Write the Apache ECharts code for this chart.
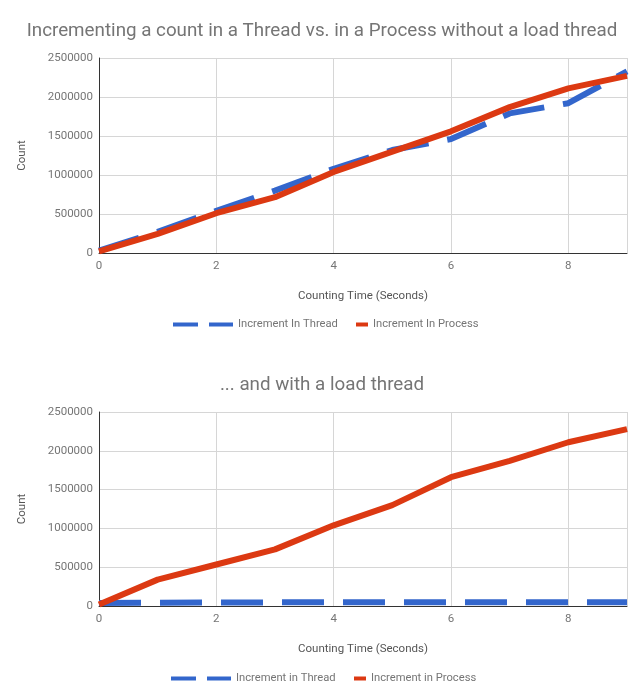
<!DOCTYPE html>
<html>
<head>
<meta charset="utf-8">
<script src="https://cdn.jsdelivr.net/npm/echarts@6/dist/echarts.min.js"></script>
<style>
html,body{margin:0;padding:0;background:#fff;}
#c{width:644px;height:693px;}
</style>
</head>
<body>
<div id="c"></div>
<script>
// Data
var seconds = [0, 1, 2, 3, 4, 5, 6, 7, 8, 9];
var threadNoLoad = [30000, 270000, 540000, 800000, 1080000, 1320000, 1460000, 1790000, 1920000, 2330000];
var processNoLoad = [20000, 245000, 510000, 715000, 1040000, 1300000, 1560000, 1870000, 2110000, 2270000];
var threadLoad = [40000, 42000, 45000, 47000, 48000, 47000, 48000, 48000, 48000, 48000];
var processLoad = [20000, 340000, 535000, 730000, 1040000, 1300000, 1660000, 1870000, 2110000, 2280000];
var yTicks = [0, 500000, 1000000, 1500000, 2000000, 2500000];
var titles = ["Incrementing a count in a Thread vs. in a Process without a load thread", "... and with a load thread"];
var namesTop = ["Increment In Thread", "Increment In Process"];
var namesBottom = ["Increment in Thread", "Increment in Process"];

var BLUE = '#3366cc', RED = '#dc3912';
var FONT = 'Roboto';

function pairs(ys) { return seconds.map(function (x, i) { return [x, ys[i]]; }); }

function xAxis(gi) {
  return {
    type: 'value', gridIndex: gi, min: 0, max: 9, interval: 2,
    name: 'Counting Time (Seconds)', nameLocation: 'middle', nameGap: 37,
    nameTextStyle: { color: '#555', fontFamily: FONT, fontSize: 11.5 },
    axisLine: { show: true, lineStyle: { color: '#333', width: 1 } },
    axisTick: { show: false },
    axisLabel: { color: '#757575', fontFamily: FONT, fontSize: 11.5, margin: 7, showMaxLabel: false },
    splitLine: { show: true, lineStyle: { color: '#d6d6d6', width: 1 } }
  };
}
function yAxis(gi) {
  return {
    type: 'value', gridIndex: gi, min: yTicks[0], max: yTicks[yTicks.length - 1], interval: 500000,
    name: 'Count', nameLocation: 'middle', nameGap: 71, nameRotate: 90,
    nameTextStyle: { color: '#555', fontFamily: FONT, fontSize: 11.5 },
    axisLine: { show: true, onZero: false, lineStyle: { color: '#333', width: 1 } },
    axisTick: { show: false },
    axisLabel: { color: '#757575', fontFamily: FONT, fontSize: 11.5, margin: 6, formatter: function (v) { return String(v); } },
    splitLine: { show: true, lineStyle: { color: '#d6d6d6', width: 1 } }
  };
}
function lineSeries(name, gi, ys, color, dashed) {
  return {
    type: 'line', name: name, xAxisIndex: gi, yAxisIndex: gi,
    data: pairs(ys), showSymbol: false, symbol: 'none', smooth: false,
    lineStyle: { color: color, width: 6, type: dashed ? [42, 19] : 'solid', cap: 'butt' },
    itemStyle: { color: color },
    emphasis: { disabled: true },
    animation: false
  };
}
function legend(name, left, top, dashed) {
  return {
    data: [{ name: name, icon: dashed ? 'path://M0,0h25v4h-25z M36,0h24v4h-24z' : 'path://M0,0h12v4h-12z' }],
    left: left, top: top, itemWidth: dashed ? 60 : 12, itemHeight: 4, itemGap: 6,
    textStyle: { color: '#757575', fontFamily: FONT, fontSize: 11.2 },
    selectedMode: false
  };
}

var chart = echarts.init(document.getElementById('c'), null, { renderer: 'canvas' });
chart.setOption({
  backgroundColor: '#fff',
  animation: false,
  title: [
    { text: titles[0], left: 'center', top: 17, textStyle: { color: '#757575', fontFamily: FONT, fontSize: 18.8, fontWeight: 'normal' } },
    { text: titles[1], left: 'center', top: 371, textStyle: { color: '#757575', fontFamily: FONT, fontSize: 18.8, fontWeight: 'normal' } }
  ],
  grid: [
    { left: 99, right: 17, top: 58, height: 195 },
    { left: 99, right: 17, top: 412, height: 194 }
  ],
  xAxis: [xAxis(0), xAxis(1)],
  yAxis: [yAxis(0), yAxis(1)],
  legend: [
    legend(namesTop[0], 168, 314, true),
    legend(namesTop[1], 351, 314, false),
    legend(namesBottom[0], 166, 668, true),
    legend(namesBottom[1], 349, 668, false)
  ],
  series: [
    lineSeries(namesTop[0], 0, threadNoLoad, BLUE, true),
    lineSeries(namesTop[1], 0, processNoLoad, RED, false),
    lineSeries(namesBottom[0], 1, threadLoad, BLUE, true),
    lineSeries(namesBottom[1], 1, processLoad, RED, false)
  ]
});
</script>
</body>
</html>
